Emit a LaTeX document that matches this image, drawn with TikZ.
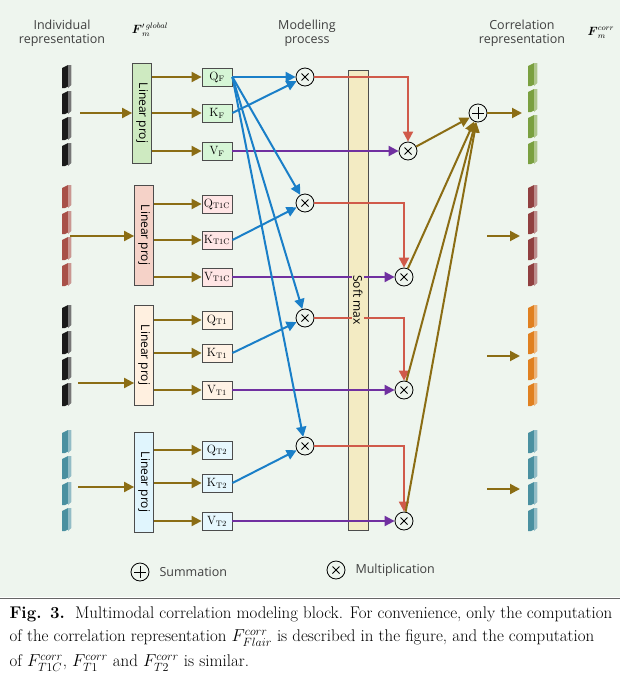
\documentclass[tikz,border=0pt]{standalone}
\usepackage{fontspec}
\usepackage{amsmath}
\setsansfont{Open Sans}
\usetikzlibrary{arrows.meta}
\definecolor{bgc}{HTML}{EEF5EE}
\definecolor{brn}{HTML}{8B6D14}
\definecolor{blu}{HTML}{1A7FC8}
\definecolor{redl}{HTML}{D05A4A}
\definecolor{pur}{HTML}{7030A0}
\definecolor{smc}{HTML}{F3EBC3}
\definecolor{stA}{HTML}{1A1A1A}
\definecolor{stB}{HTML}{A85048}
\definecolor{stD}{HTML}{4A90A0}
\definecolor{stG}{HTML}{7AA040}
\definecolor{stO}{HTML}{E08020}
\definecolor{stR}{HTML}{904040}
\tikzset{
  lab/.style={font=\sffamily\fontsize{12.5}{14}\selectfont,align=center,text=black!75},
  proj/.style={draw=black!70,thick,minimum width=100pt,minimum height=19pt,inner sep=0pt,font=\sffamily\fontsize{12}{14}\selectfont,rotate=-90},
  qkv/.style={draw=black!70,thick,minimum width=30pt,minimum height=18pt,inner sep=0pt,font=\rmfamily\fontsize{12}{14}\selectfont},
  mul/.style={draw,thick,circle,minimum size=18pt,inner sep=0pt,path picture={
      \draw[thick] (path picture bounding box.north west)++(5.5pt,-5.5pt) -- ++(7pt,-7pt)
        (path picture bounding box.north east)++(-5.5pt,-5.5pt) -- ++(-7pt,-7pt);}},
  add/.style={draw,thick,circle,minimum size=18pt,inner sep=0pt,path picture={
      \draw[thick] (path picture bounding box.north)++(0,-3pt) -- ++(0,-12pt)
        (path picture bounding box.west)++(3pt,0) -- ++(12pt,0);}},
  ar/.style={-{Triangle[length=10pt,width=10pt]},line width=2pt},
}
\newcommand{\stack}[3]{% x, top y, colour
  \foreach \k in {0,1,2,3}{
    \fill[#3] (#1,#2+3+\k*26) -- (#1+6,#2+\k*26) -- (#1+9,#2+\k*26) -- (#1+9,#2+20+\k*26) -- (#1+3,#2+23+\k*26) -- (#1,#2+23+\k*26) -- cycle;
    \fill[#3!60!white] (#1+6,#2+\k*26) -- (#1+9,#2+\k*26) -- (#1+9,#2+20+\k*26) -- (#1+6,#2+23+\k*26) -- cycle;}}
\begin{document}
\begin{tikzpicture}[x=1pt,y=-1pt]
\useasboundingbox (0,0) rectangle (620,691);
\fill[bgc] (0,0) rectangle (620,597);
\draw[black!60] (0,598) -- (620,598);
% headers
\node[lab] (hind) at (62,33) {Individual\\representation};
\node[font=\large] (hglob) at (150,30) {$\boldsymbol{F}^{\prime\,global}_{m}$};
\node[lab] (hmod) at (307,33) {Modelling\\process};
\node[lab] (hcor) at (522,33) {Correlation\\representation};
\node[font=\large] (hcorr) at (601,33) {$\boldsymbol{F}^{corr}_{m}$};
% feature stacks
\stack{62}{65}{stA}
\stack{62}{185}{stB}
\stack{62}{305}{stA}
\stack{62}{430}{stD}
\stack{528}{63}{stG}
\stack{528}{185}{stR}
\stack{528}{305}{stO}
\stack{528}{430}{stD}
% linear projections
\node[proj,fill=green!10!bgc!90!olive] (lp1) at (142,113) {Linear proj};
\node[proj,fill=red!12!white!85!brown] (lp2) at (144,235) {Linear proj};
\node[proj,fill=orange!12!white] (lp3) at (144,355) {Linear proj};
\node[proj,fill=cyan!12!white] (lp4) at (144,482) {Linear proj};
% input arrows
\coordinate (in1) at (80,113);
\coordinate (in2) at (70,236);
\coordinate (in3) at (78,383);
\coordinate (in4) at (78,487);
\foreach \i in {1,...,4}
  \draw[ar,brn] (in\i) -- (in\i -| lp\i.south);
% Q K V boxes
\node[qkv,fill=green!10!bgc] (q1) at (217,77) {Q$_{\mathrm{F}}$};
\node[qkv,fill=green!10!bgc] (k1) at (217,113) {K$_{\mathrm{F}}$};
\node[qkv,fill=green!10!bgc] (v1) at (217,151) {V$_{\mathrm{F}}$};
\node[qkv,fill=red!10!white] (q2) at (217,204) {Q$_{\mathrm{T1C}}$};
\node[qkv,fill=red!10!white] (k2) at (217,240) {K$_{\mathrm{T1C}}$};
\node[qkv,fill=red!10!white] (v2) at (217,277) {V$_{\mathrm{T1C}}$};
\node[qkv,fill=orange!10!white] (q3) at (217,320) {Q$_{\mathrm{T1}}$};
\node[qkv,fill=orange!10!white] (k3) at (217,353) {K$_{\mathrm{T1}}$};
\node[qkv,fill=orange!10!white] (v3) at (217,390) {V$_{\mathrm{T1}}$};
\node[qkv,fill=cyan!10!white] (q4) at (217,450) {Q$_{\mathrm{T2}}$};
\node[qkv,fill=cyan!10!white] (k4) at (217,483) {K$_{\mathrm{T2}}$};
\node[qkv,fill=cyan!10!white] (v4) at (217,521) {V$_{\mathrm{T2}}$};
\foreach \i in {1,...,4}
  \foreach \t in {q,k,v}
    \draw[ar,brn] (\t\i -| lp\i.north) -- (\t\i.west);
% softmax
\node[draw=black!70,fill=smc,minimum width=20pt,minimum height=460pt,inner sep=0pt] (sm) at (358,300) {};
% multiplications
\node[mul] (m1) at (305,77) {};
\node[mul] (m2) at (305,203) {};
\node[mul] (m3) at (305,318) {};
\node[mul] (m4) at (305,446) {};
\node[mul] (w1) at (408,151) {};
\node[mul] (w2) at (404,277) {};
\node[mul] (w3) at (404,390) {};
\node[mul] (w4) at (404,521) {};
\node[add] (s) at (478,113) {};
% attention
\foreach \i in {1,...,4}{
  \draw[ar,blu] (q1.east) -- (m\i);
  \draw[ar,blu] (k\i.east) -- (m\i);
  \draw[ar,redl] (m\i) -- (m\i -| w\i) -- (w\i);
  \draw[ar,pur] (v\i.east) -- (w\i);
  \draw[ar,brn] (w\i) -- (s);
}
\node[font=\sffamily\fontsize{12}{14}\selectfont,rotate=-90,fill=smc,inner sep=1pt] (smt) at (sm) {Soft max};
\foreach \i in {2,3}
  \draw[ar,brn] (487,\i*120-4) -- (520,\i*120-4);
\draw[ar,brn] (487,489) -- (520,489);
\draw[ar,brn] (s) -- (522,113);
% legend
\node[add] (la) at (140,572) {};
\node[lab,anchor=west] (lat) at (156,572) {Summation};
\node[mul] (lm) at (336,570) {};
\node[lab,anchor=west] (lmt) at (352,570) {Multiplication};
% caption
\node[anchor=west,font=\fontsize{16.9}{20}\selectfont] (c1) at (6,614) {\textbf{Fig. 3.}\ \ Multimodal correlation modeling block. For convenience, only the computation};
\node[anchor=west,font=\fontsize{16.9}{20}\selectfont] (c2) at (6,638) {of the correlation representation $F^{corr}_{Flair}$ is described in the figure, and the computation};
\node[anchor=west,font=\fontsize{16.9}{20}\selectfont] (c3) at (6,663) {of $F^{corr}_{T1C}$, $F^{corr}_{T1}$ and $F^{corr}_{T2}$ is similar.};
\end{tikzpicture}
\end{document}
